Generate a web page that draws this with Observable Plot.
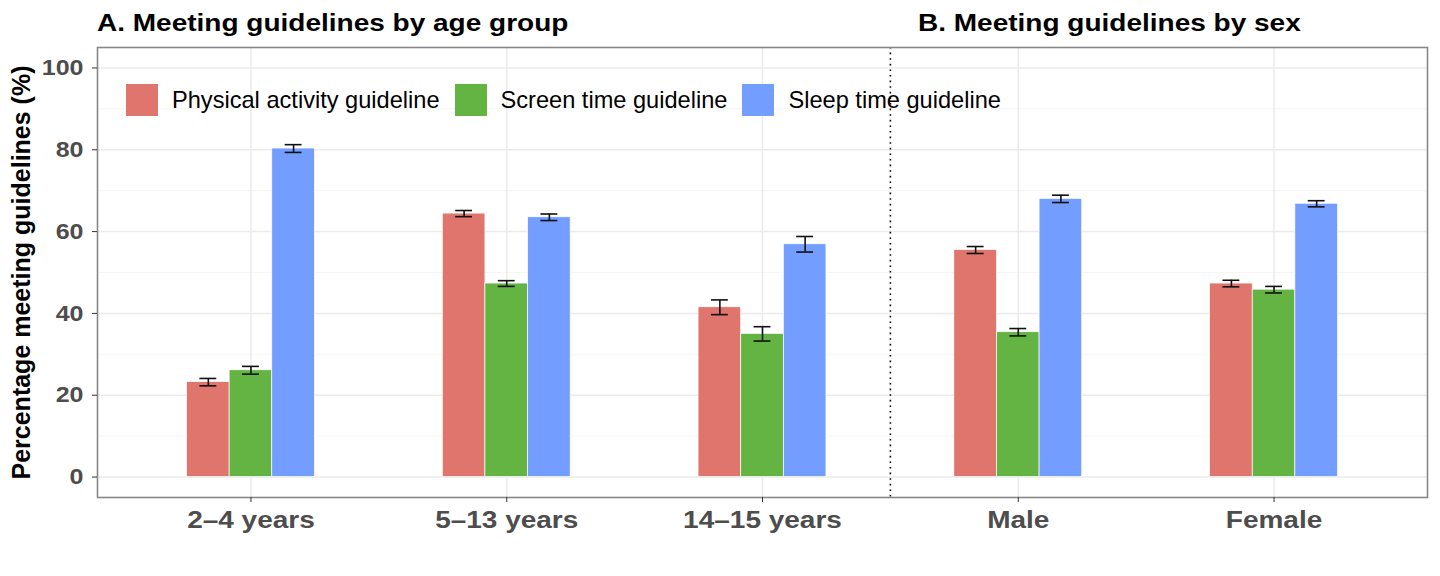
<!DOCTYPE html>
<html><head><meta charset="utf-8">
<script src="https://cdn.jsdelivr.net/npm/d3@7"></script>
<script src="https://cdn.jsdelivr.net/npm/@observablehq/plot@0.6"></script>
<style>
body{margin:0;background:#fff;font-family:"Liberation Sans",Arial,sans-serif;}
#wrap{position:relative;width:1440px;height:576px;overflow:hidden;}
.title{position:absolute;top:9px;font-weight:bold;font-size:28px;color:#000;line-height:1;white-space:nowrap;transform:scaleY(0.87);transform-origin:left center;}
#legend{position:absolute;left:126px;top:84px;display:flex;align-items:center;}
.sw{width:32px;height:32px;margin-right:14px;}
.lt{font-size:23.6px;color:#000;margin-right:15px;white-space:nowrap;line-height:32px;}
</style>
</head><body>
<div id="wrap"></div>
<script>
const ageGroups = ["2–4 years","5–13 years","14–15 years"];
const sexGroups = ["Male","Female"];
const panelTitles = ["A. Meeting guidelines by age group","B. Meeting guidelines by sex"];
const series = ["Physical activity guideline","Screen time guideline","Sleep time guideline"];
const colors = ["#DF756C","#64B444","#739DFF"];
const physical   = [23.2, 64.4, 41.5, 55.5, 47.3];
const physicalSE = [0.9, 0.75, 1.8, 0.85, 0.8];
const screen     = [26.1, 47.3, 35.0, 35.4, 45.8];
const screenSE   = [0.95, 0.7, 1.75, 0.9, 0.8];
const sleep      = [80.3, 63.5, 56.9, 68.0, 66.8];
const sleepSE    = [0.95, 0.8, 1.9, 0.9, 0.75];
const yTicks = [0, 20, 40, 60, 80, 100];
const yMinor = [10, 30, 50, 70, 90];
const yTitle = "Percentage meeting guidelines (%)";

const groups = ageGroups.concat(sexGroups);
const values = [physical, screen, sleep];
const ses = [physicalSE, screenSE, sleepSE];
const nS = series.length;
const groupWidth = 0.5;
const rows = [];
groups.forEach((g, i) => {
  series.forEach((s, k) => {
    const x1 = i - groupWidth / 2 + k * groupWidth / nS;
    const x2 = x1 + groupWidth / nS;
    const v = values[k][i], e = ses[k][i];
    rows.push({group: g, series: s, x1, x2, xc: (x1 + x2) / 2, value: v, lo: v - e, hi: v + e});
  });
});
const divider = ageGroups.length - 0.5;
const capHalf = 0.033;

const chart = Plot.plot({
  width: 1440, height: 576,
  marginLeft: 97, marginRight: 13, marginTop: 47, marginBottom: 79,
  style: {fontFamily: "Liberation Sans, Arial, sans-serif", background: "white"},
  x: {domain: [-0.6, groups.length - 0.4]},
  y: {domain: [-5, 105]},
  color: {domain: series, range: colors},
  marks: [
    Plot.gridY(yMinor, {stroke: "#F2F2F2", strokeOpacity: 1, strokeWidth: 0.8}),
    Plot.gridY(yTicks, {stroke: "#EBEBEB", strokeOpacity: 1, strokeWidth: 1.5}),
    Plot.gridX(d3.range(groups.length), {stroke: "#EBEBEB", strokeOpacity: 1, strokeWidth: 1.5}),
    Plot.rectY(rows, {x1: "x1", x2: "x2", y1: 0, y2: "value", fill: "series", stroke: "white", strokeWidth: 0.7}),
    Plot.ruleX(rows, {x: "xc", y1: "lo", y2: "hi", stroke: "#111", strokeWidth: 1.6}),
    Plot.ruleY(rows, {x1: d => d.xc - capHalf, x2: d => d.xc + capHalf, y: "lo", stroke: "#111", strokeWidth: 1.6}),
    Plot.ruleY(rows, {x1: d => d.xc - capHalf, x2: d => d.xc + capHalf, y: "hi", stroke: "#111", strokeWidth: 1.6}),
    Plot.ruleX([divider], {stroke: "#000", strokeWidth: 1.6, strokeDasharray: "1.6,4"}),
    Plot.frame({stroke: "#888888", strokeWidth: 1.6}),
    Plot.axisY(yTicks, {tickSize: 5, tickPadding: 9, fontSize: 25, fontWeight: "bold", fill: "#4D4D4D", stroke: "#333", label: null}),
    Plot.axisX(d3.range(groups.length), {tickFormat: i => groups[i], tickSize: 5, tickPadding: 8, fontSize: 28, fontWeight: "bold", fill: "#4D4D4D", stroke: "#333", label: null}),
    Plot.text([yTitle], {frameAnchor: "left", textAnchor: "middle", lineAnchor: "middle", rotate: -90, dx: -76, fontSize: 25, fontWeight: "bold", fill: "#000"})
  ]
});

d3.select(chart).selectAll('g[aria-label="x-axis tick label"] text').each(function() {
  const t = this.getAttribute("transform") || "";
  this.setAttribute("transform", t + " scale(1,0.87)");
});
d3.select(chart).selectAll('g[aria-label="y-axis tick label"] text').each(function() {
  const t = this.getAttribute("transform") || "";
  this.setAttribute("transform", t + " scale(1,0.9)");
});

const wrap = document.getElementById("wrap");
wrap.appendChild(chart);

const titleLeft = [97, 918];
panelTitles.forEach((t, i) => {
  const d = document.createElement("div");
  d.className = "title";
  d.style.left = titleLeft[i] + "px";
  d.textContent = t;
  wrap.appendChild(d);
});

const leg = document.createElement("div");
leg.id = "legend";
series.forEach((s, k) => {
  const sw = document.createElement("div");
  sw.className = "sw";
  sw.style.background = colors[k];
  const lt = document.createElement("span");
  lt.className = "lt";
  lt.textContent = s;
  leg.appendChild(sw);
  leg.appendChild(lt);
});
wrap.appendChild(leg);
</script>
</body></html>
